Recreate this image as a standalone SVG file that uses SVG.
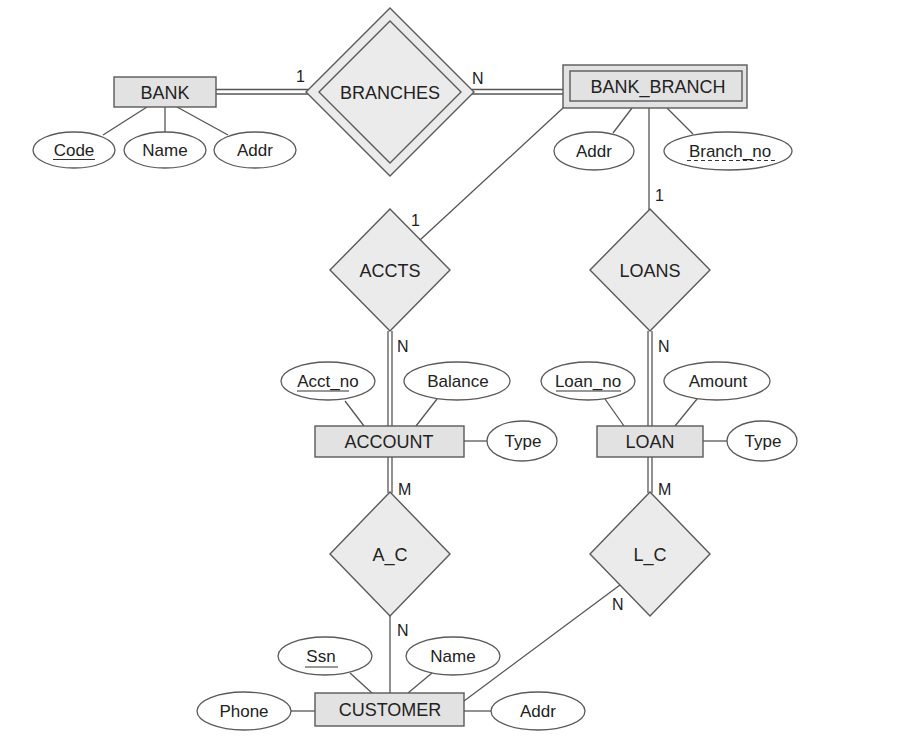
<svg xmlns="http://www.w3.org/2000/svg" width="898" height="743" viewBox="0 0 898 743">
<style>
.ent{fill:#e2e2e2;stroke:#5a5a5a;stroke-width:1.4}
.rel{fill:#ebebeb;stroke:#5a5a5a;stroke-width:1.4}
.att{fill:#ffffff;stroke:#5a5a5a;stroke-width:1.3}
.ln{stroke:#555;stroke-width:1.3;fill:none}
.t{font-family:"Liberation Sans",Arial,sans-serif;font-size:18px;fill:#222;text-anchor:middle}
.a{font-family:"Liberation Sans",Arial,sans-serif;font-size:17px;fill:#222;text-anchor:middle}
.c{font-family:"Liberation Sans",Arial,sans-serif;font-size:16px;fill:#222}
.ul{stroke:#333;stroke-width:1.2}
</style>
<rect width="898" height="743" fill="#ffffff"/>
<g id="connectors">
<line class="ln" x1="216" y1="89.5" x2="308" y2="89.5"/>
<line class="ln" x1="216" y1="94" x2="308" y2="94"/>
<line class="ln" x1="472" y1="89.5" x2="563" y2="89.5"/>
<line class="ln" x1="472" y1="94" x2="563" y2="94"/>
<line class="ln" x1="147" y1="107" x2="103" y2="135"/>
<line class="ln" x1="165" y1="107" x2="165" y2="132"/>
<line class="ln" x1="177" y1="107" x2="228" y2="135"/>
<line class="ln" x1="632" y1="108" x2="613" y2="133"/>
<line class="ln" x1="667" y1="108" x2="693" y2="134"/>
<line class="ln" x1="649" y1="108" x2="649" y2="210"/>
<line class="ln" x1="563" y1="108" x2="420" y2="240"/>
<line class="ln" x1="388" y1="331" x2="388" y2="426"/>
<line class="ln" x1="392" y1="331" x2="392" y2="426"/>
<line class="ln" x1="648" y1="331" x2="648" y2="426"/>
<line class="ln" x1="652" y1="331" x2="652" y2="426"/>
<line class="ln" x1="345" y1="401" x2="364" y2="426"/>
<line class="ln" x1="437" y1="399" x2="416" y2="426"/>
<line class="ln" x1="464" y1="441" x2="488" y2="441"/>
<line class="ln" x1="605" y1="399" x2="624" y2="426"/>
<line class="ln" x1="697" y1="399" x2="675" y2="426"/>
<line class="ln" x1="703" y1="441" x2="727" y2="441"/>
<line class="ln" x1="388" y1="457" x2="388" y2="493"/>
<line class="ln" x1="392" y1="457" x2="392" y2="493"/>
<line class="ln" x1="648" y1="457" x2="648" y2="493"/>
<line class="ln" x1="652" y1="457" x2="652" y2="493"/>
<line class="ln" x1="390" y1="616" x2="390" y2="693"/>
<line class="ln" x1="620" y1="585" x2="464" y2="701"/>
<line class="ln" x1="350" y1="673" x2="372" y2="693"/>
<line class="ln" x1="432" y1="673" x2="408" y2="693"/>
<line class="ln" x1="291" y1="711" x2="315" y2="711"/>
<line class="ln" x1="464" y1="711" x2="492" y2="711"/>
</g>
<g id="labels">
<text class="c" x="296" y="82">1</text>
<text class="c" x="472" y="84">N</text>
<text class="c" x="411" y="226">1</text>
<text class="c" x="655" y="201">1</text>
<text class="c" x="397" y="352">N</text>
<text class="c" x="658" y="352">N</text>
<text class="c" x="398" y="495">M</text>
<text class="c" x="658" y="495">M</text>
<text class="c" x="397" y="636">N</text>
<text class="c" x="612" y="610">N</text>
</g>
<g id="BANK">
<rect class="ent" x="114" y="77" width="102" height="30"/>
<text class="t" x="165" y="99">BANK</text>
</g>
<g id="BANK_Code">
<ellipse class="att" cx="74" cy="150" rx="41" ry="18"/>
<text class="a" x="74" y="156">Code</text>
<line class="ul" x1="53" y1="159.5" x2="95" y2="159.5"/>
</g>
<g id="BANK_Name">
<ellipse class="att" cx="165" cy="150" rx="41" ry="18"/>
<text class="a" x="165" y="156">Name</text>
</g>
<g id="BANK_Addr">
<ellipse class="att" cx="255" cy="150" rx="41" ry="18"/>
<text class="a" x="255" y="156">Addr</text>
</g>
<g id="BRANCHES">
<polygon class="rel" points="306,92 390,8 474,92 390,176"/>
<polygon class="rel" points="319,92 390,21 461,92 390,163"/>
<text class="t" x="390" y="99">BRANCHES</text>
</g>
<g id="BANK_BRANCH">
<rect class="ent" x="563" y="65" width="184" height="43"/>
<rect class="ent" x="570" y="71" width="172" height="30"/>
<text class="t" x="658" y="93">BANK_BRANCH</text>
</g>
<g id="BB_Addr">
<ellipse class="att" cx="594" cy="151" rx="40" ry="19"/>
<text class="a" x="594" y="157">Addr</text>
</g>
<g id="BB_Branch_no">
<ellipse class="att" cx="728" cy="151" rx="64" ry="19"/>
<text class="a" x="730" y="157">Branch_no</text>
<line class="ul" x1="687" y1="160.5" x2="775" y2="160.5" stroke-dasharray="4,3"/>
</g>
<g id="ACCTS">
<polygon class="rel" points="330,270 390,209 450,270 390,331"/>
<text class="t" x="390" y="277">ACCTS</text>
</g>
<g id="LOANS">
<polygon class="rel" points="590,270 650,209 710,270 650,331"/>
<text class="t" x="650" y="277">LOANS</text>
</g>
<g id="ACCOUNT">
<rect class="ent" x="315" y="426" width="149" height="31"/>
<text class="t" x="389" y="448">ACCOUNT</text>
</g>
<g id="ACC_Acct_no">
<ellipse class="att" cx="328" cy="381" rx="47" ry="19"/>
<text class="a" x="328" y="387">Acct_no</text>
<line class="ul" x1="297" y1="391" x2="349" y2="391"/>
</g>
<g id="ACC_Balance">
<ellipse class="att" cx="457" cy="381" rx="53" ry="19"/>
<text class="a" x="458" y="387">Balance</text>
</g>
<g id="ACC_Type">
<ellipse class="att" cx="522" cy="441" rx="35" ry="20"/>
<text class="a" x="523" y="447">Type</text>
</g>
<g id="LOAN">
<rect class="ent" x="597" y="426" width="106" height="31"/>
<text class="t" x="650" y="448">LOAN</text>
</g>
<g id="LOAN_Loan_no">
<ellipse class="att" cx="588" cy="381" rx="47" ry="19"/>
<text class="a" x="588" y="387">Loan_no</text>
<line class="ul" x1="556" y1="391" x2="621" y2="391"/>
</g>
<g id="LOAN_Amount">
<ellipse class="att" cx="717" cy="381" rx="53" ry="19"/>
<text class="a" x="718" y="387">Amount</text>
</g>
<g id="LOAN_Type">
<ellipse class="att" cx="762" cy="441" rx="35" ry="20"/>
<text class="a" x="763" y="447">Type</text>
</g>
<g id="A_C">
<polygon class="rel" points="330,554 390,492 450,554 390,616"/>
<text class="t" x="390" y="561">A_C</text>
</g>
<g id="L_C">
<polygon class="rel" points="590,554 650,492 710,554 650,616"/>
<text class="t" x="650" y="561">L_C</text>
</g>
<g id="CUSTOMER">
<rect class="ent" x="315" y="693" width="149" height="33"/>
<text class="t" x="390" y="716">CUSTOMER</text>
</g>
<g id="CUS_Ssn">
<ellipse class="att" cx="325" cy="656" rx="47" ry="19"/>
<text class="a" x="321" y="662">Ssn</text>
<line class="ul" x1="305" y1="667" x2="338" y2="667"/>
</g>
<g id="CUS_Name">
<ellipse class="att" cx="453" cy="656" rx="47" ry="19"/>
<text class="a" x="453" y="662">Name</text>
</g>
<g id="CUS_Phone">
<ellipse class="att" cx="244" cy="711" rx="47" ry="19"/>
<text class="a" x="244" y="717">Phone</text>
</g>
<g id="CUS_Addr">
<ellipse class="att" cx="538" cy="711" rx="47" ry="19"/>
<text class="a" x="538" y="717">Addr</text>
</g>
</svg>
